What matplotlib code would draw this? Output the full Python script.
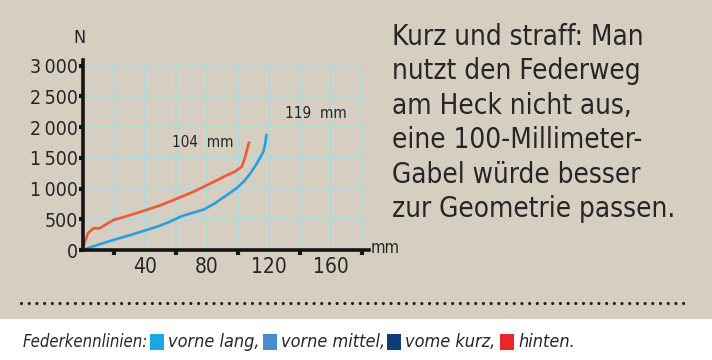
import matplotlib
matplotlib.use("Agg")
import matplotlib.pyplot as plt
from matplotlib import font_manager
from matplotlib.lines import Line2D
from matplotlib.patches import Rectangle

# ---------------- data ----------------
blue_mm = [0, 4, 9, 19, 30, 41, 50, 56, 63, 70, 78, 85, 92, 99, 104, 108, 112, 116.4, 117.5, 118.5]
blue_n = [0, 40, 80, 160, 240, 326, 400, 461, 545, 600, 660, 760, 880, 1004, 1120, 1248, 1400, 1600, 1720, 1890]
red_mm = [0, 1, 3, 6.5, 10.5, 14, 19.5, 28, 38, 49, 56, 62.5, 70, 78, 86, 93, 98, 102.4, 104.5, 106, 107.3]
red_n = [60, 135, 271, 353, 353, 407, 488, 550, 630, 720, 790, 858, 935, 1031, 1130, 1220, 1275, 1356, 1500, 1650, 1763]

x_label_ticks = [40, 80, 120, 160]
x_mark_ticks = [20, 60, 100, 140, 180]
y_ticks = [0, 500, 1000, 1500, 2000, 2500, 3000]
y_tick_labels = ["0", "500", "1\u2009000", "1\u2009500", "2\u2009000", "2\u2009500", "3\u2009000"]
grid_x = [20, 40, 60, 80, 100, 120, 140, 160, 180]

annot_texts = ["104  mm", "119  mm"]
annot_pos = [(77.5, 1758), (150.5, 2230)]

side_lines = ["Kurz und straff: Man", "nutzt den Federweg", "am Heck nicht aus,",
              "eine 100-Millimeter-", "Gabel würde besser", "zur Geometrie passen."]

legend_title = "Federkennlinien:"
legend_labels = ["vorne lang,", "vorne mittel,", "vome kurz,", "hinten."]
legend_colors = ["#1ba6e4", "#4a8bd0", "#0f3d78", "#e8262b"]

# ---------------- fonts ----------------
names = {f.name for f in font_manager.fontManager.ttflist}
if "Liberation Sans Narrow" in names:
    FAM = ["Liberation Sans Narrow", "DejaVu Sans"]
    STRETCH = "normal"
else:
    FAM = ["DejaVu Sans"]
    STRETCH = "condensed"

BG = "#d6cec1"
GRID = "#a9dde0"
TXT = "#262626"

W, H = 712, 360
fig = plt.figure(figsize=(W / 100, H / 100), dpi=100)
fig.patch.set_facecolor("white")
fig.add_artist(Rectangle((0, 1 - 319 / H), 1, 319 / H, transform=fig.transFigure,
                         facecolor=BG, edgecolor="none", zorder=0))

# axes geometry (pixels)
x0px, pxmm = 83.3, 1.547
y0px, pxn = 250.0, 0.06143
xmax, ymax = 185, 3100
ax = fig.add_axes([x0px / W, (H - y0px) / H, xmax * pxmm / W, ymax * pxn / H])
ax.set_facecolor("none")
ax.set_xlim(0, xmax)
ax.set_ylim(0, ymax)

# grid
ax.hlines(y_ticks[1:], 0, 180, colors=GRID, linewidth=1.2, zorder=1)
ax.vlines(grid_x, 0, 3000, colors=GRID, linewidth=1.2, zorder=1)

# curves
ax.plot(blue_mm, blue_n, color="#2a9fe0", linewidth=1.9, zorder=3, solid_capstyle="butt")
ax.plot(red_mm, red_n, color="#ec5a36", linewidth=1.9, zorder=3, solid_capstyle="butt")

for t, (px, py) in zip(annot_texts, annot_pos):
    ax.text(px, py, t, family=FAM, fontstretch=STRETCH, fontsize=11, color=TXT,
            ha="center", va="center", zorder=4)

# spines
for s in ["top", "right"]:
    ax.spines[s].set_visible(False)
for s in ["left", "bottom"]:
    ax.spines[s].set_linewidth(2.6)
    ax.spines[s].set_color("#151515")
    ax.spines[s].set_zorder(5)

ax.set_yticks(y_ticks)
ax.set_yticklabels(y_tick_labels, family=FAM, fontstretch=STRETCH, fontsize=14, color=TXT)
ax.tick_params(axis="y", direction="out", length=3, width=3, color="#151515", pad=1)

ax.set_xticks(x_label_ticks)
ax.set_xticklabels([str(v) for v in x_label_ticks], family=FAM, fontstretch=STRETCH,
                   fontsize=15, color=TXT)
ax.tick_params(axis="x", which="major", length=0, pad=5)
ax.set_xticks(x_mark_ticks, minor=True)
ax.tick_params(axis="x", which="minor", direction="out", length=3.5, width=3, color="#151515")

fig.text(79 / W, 1 - 38 / H, "N", family=FAM, fontstretch=STRETCH, fontsize=13,
         color=TXT, ha="center", va="center")
fig.text(371 / W, 1 - 248 / H, "mm", family=FAM, fontstretch=STRETCH, fontsize=12,
         color=TXT, ha="left", va="center")

# side text
for i, line in enumerate(side_lines):
    fig.text(392 / W, 1 - (45 + 34.4 * i) / H, line, family=FAM, fontstretch=STRETCH,
             fontsize=20, color=TXT, ha="left", va="baseline")

# dotted separator
fig.add_artist(Line2D([21 / W, 685 / W], [1 - 302.5 / H] * 2, transform=fig.transFigure,
                      color="#1e1e1e", linewidth=2.3, linestyle=(0, (0.01, 2.4)),
                      dash_capstyle="round"))

# legend row
ly = 1 - 342 / H
fig.text(23 / W, ly, legend_title, family=FAM, fontstretch=STRETCH, style="italic",
         fontsize=12, color=TXT, ha="left", va="center")
sq_x = [150, 263, 387, 500]
for sx, lab, col in zip(sq_x, legend_labels, legend_colors):
    fig.add_artist(Rectangle((sx / W, 1 - 350 / H), 14 / W, 16 / H, transform=fig.transFigure,
                             facecolor=col, edgecolor="none"))
    fig.text((sx + 18) / W, ly, lab, family=FAM, fontstretch=STRETCH, style="italic",
             fontsize=13, color=TXT, ha="left", va="center")

fig.savefig("out.png", dpi=100, facecolor=fig.get_facecolor())
